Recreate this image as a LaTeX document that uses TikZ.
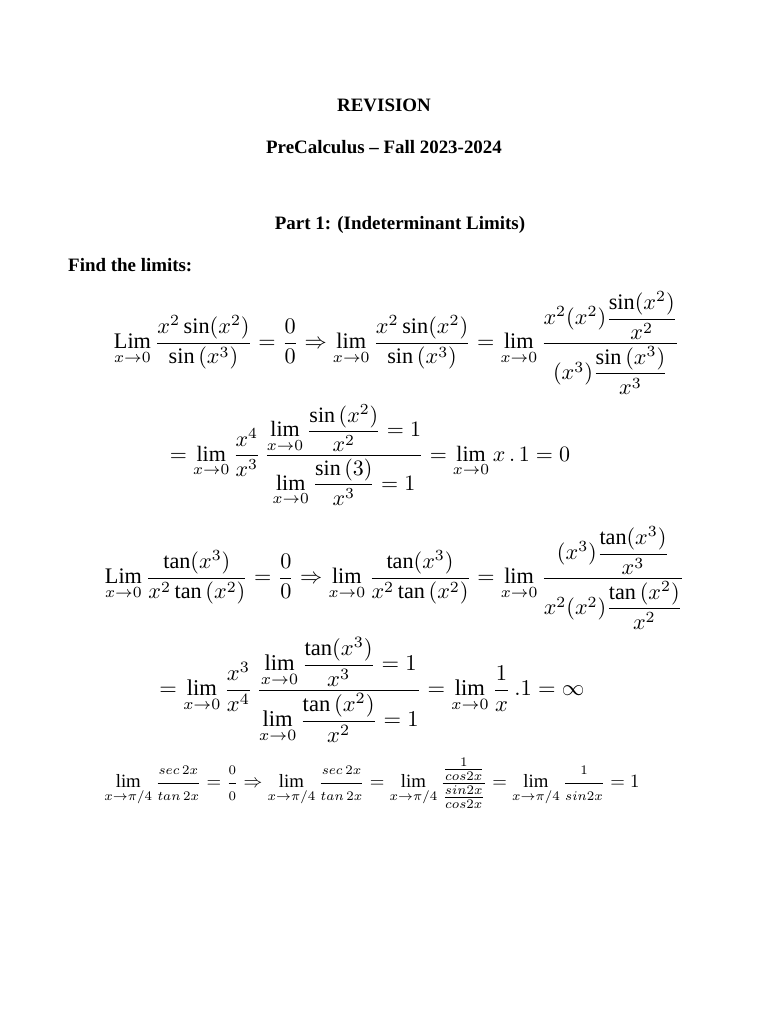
\documentclass[tikz,border=0pt]{standalone}
\usepackage{amsmath}
\usepackage{fontspec}
\setmainfont{Liberation Serif}
\begin{document}
\begin{tikzpicture}[x=1bp,y=-1bp]
\tikzset{ttl/.style={font=\bfseries\fontsize{19}{22}\selectfont,inner sep=0pt},eq/.style={inner sep=0pt}}
\useasboundingbox[fill=white] (0,0) rectangle (768,1024);
\node[ttl] (t1) at (384,105) {REVISION};
\node[ttl] (t2) at (384,147) {PreCalculus – Fall 2023-2024};
\node[ttl] (t3) at (400,225) {Part 1: (Indeterminant Limits)};
\node[ttl,anchor=west] (t4) at (68,265) {Find the limits:};
\node[eq] (e1) at (397,343) {\resizebox{566bp}{!}{$\displaystyle \mathop{\mathrm{Lim}}\limits_{x\to0}\frac{x^2\sin(x^2)}{\sin\,(x^3)}=\frac00\Rightarrow\lim_{x\to0}\frac{x^2\sin(x^2)}{\sin\,(x^3)}=\lim_{x\to0}\frac{x^2(x^2)\dfrac{\sin(x^2)}{x^2}}{(x^3)\dfrac{\sin\,(x^3)}{x^3}}$}};
\node[eq] (e2) at (370,455) {\resizebox{400bp}{!}{$\displaystyle =\lim_{x\to0}\frac{x^4}{x^3}\,\frac{\lim\limits_{x\to0}\dfrac{\sin\,(x^2)}{x^2}=1}{\lim\limits_{x\to0}\dfrac{\sin\,(3)}{x^3}=1}=\lim_{x\to0}x\,.\,1=0$}};
\node[eq] (e3) at (395,578) {\resizebox{580bp}{!}{$\displaystyle \mathop{\mathrm{Lim}}\limits_{x\to0}\frac{\tan(x^3)}{x^2\tan\,(x^2)}=\frac00\Rightarrow\lim_{x\to0}\frac{\tan(x^3)}{x^2\tan\,(x^2)}=\lim_{x\to0}\frac{(x^3)\dfrac{\tan(x^3)}{x^3}}{x^2(x^2)\dfrac{\tan\,(x^2)}{x^2}}$}};
\node[eq] (e4) at (372,690) {\resizebox{425bp}{!}{$\displaystyle =\lim_{x\to0}\frac{x^3}{x^4}\,\frac{\lim\limits_{x\to0}\dfrac{\tan(x^3)}{x^3}=1}{\lim\limits_{x\to0}\dfrac{\tan\,(x^2)}{x^2}=1}=\lim_{x\to0}\frac1x\,.1=\infty$}};
\node[eq] (e5) at (372,783) {\resizebox{535bp}{!}{$\displaystyle \lim_{x\to\pi/4}\frac{\scriptstyle sec\,2x}{\scriptstyle tan\,2x}=\frac{\scriptstyle 0}{\scriptstyle 0}\Rightarrow\lim_{x\to\pi/4}\frac{\scriptstyle sec\,2x}{\scriptstyle tan\,2x}=\lim_{x\to\pi/4}\frac{\frac{1}{cos2x}}{\frac{sin2x}{cos2x}}=\lim_{x\to\pi/4}\frac{\scriptstyle 1}{\scriptstyle sin2x}=1$}};
\end{tikzpicture}
\end{document}
